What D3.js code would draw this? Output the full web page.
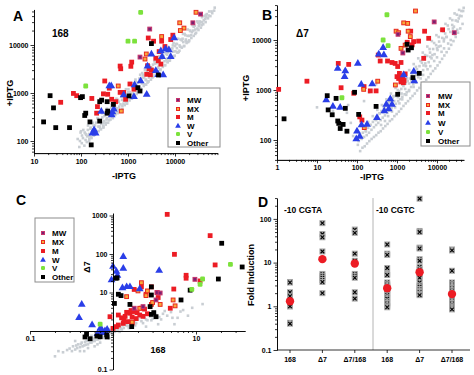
<!DOCTYPE html>
<html>
<head>
<meta charset="utf-8">
<script src="https://cdn.jsdelivr.net/npm/d3@7"></script>
<style>
  body { margin: 0; background: #fff; }
  svg { display: block; }
  text { font-family: "Liberation Sans", Arial, sans-serif; font-weight: bold; }
</style>
</head>
<body>
<svg id="chart" width="474" height="375"></svg>
<script>
// ---- Data ----
const categories = ["MW", "MX", "M", "W", "V", "Other"];

// Panel A: 168, [-IPTG, +IPTG]
const aMW = [[35000,44000],[24000,29000],[2900,21500],[1800,5600]];
const aMX = [[28000,48000],[12600,29000],[15500,22500],[5200,15000],[2300,5100],[2450,6500],[620,1400],[720,420],[13000,20000]];
const aM = [[2700,14000],[3500,12000],[5200,12000],[8100,13000],[6100,9300],[4600,7300],[680,3640],[700,3200],[1200,4400],[1150,3600],
  [2600,3700],[2800,3200],[3150,3000],[2500,2450],[3000,2400],[3900,5300],[4400,4700],[5000,4000],[320,1780],[1100,1540],[1340,1200],
  [69,980],[81,880],[37,640],[170,770],[300,960],[370,940],[450,740],[550,660],[224,520],[215,380],[810,1030],[890,740],[680,1030],
  [400,1260],[9000,16000]];
const aW = [[9600,14000],[5000,7500],[6300,8300],[7400,7900],[3150,6400],[8100,5700],[5300,5700],[2600,3600],[3900,2900],[5600,2370],
  [4400,2400],[1860,1780],[1380,1470],[2500,930],[400,1400],[440,1400],[810,910],[1340,840],[270,410],[465,400],[500,460],[190,170],
  [175,145],[205,145],[450,350]];
const aV = [[1860,48000],[1000,12000],[1380,12000],[126,1400]];
const aOther = [[3150,10700],[4450,2370],[1800,1100],[1620,1290],[1050,870],[275,710],[250,660],[490,580],[360,660],[370,420],[360,380],
  [126,380],[120,340],[107,840],[98,800],[22,880],[26,490],[16,250],[29,190],[57,190],[155,250],[250,260],[165,83]];
const aGray = [[85,110],[95,100],[105,130],[110,115],[120,150],[125,105],[135,125],[140,170],[150,140],[160,190],[165,120],[175,155],
  [185,210],[190,140],[200,175],[210,240],[220,160],[235,200],[245,270],[255,185],[270,230],[285,310],[295,210],[310,260],[330,350],
  [340,240],[360,300],[380,420],[395,270],[420,350],[440,500],[460,320],[490,410],[520,600],[540,380],[580,480],[610,720],[640,450],
  [690,580],[720,850],[760,540],[820,690],[860,1000],[900,640],[970,820],[1020,1200],[1080,760],[1150,980],[1220,1450],[1300,900],
  [1380,1150],[1450,1700],[1550,1050],[1650,1350],[1750,2000],[1850,1250],[1980,1600],[2100,2400],[2250,1500],[2400,1900],[2550,2900],
  [2700,1750],[2900,2300],[3100,3400],[3300,2100],[3500,2800],[3750,4100],[4000,2600],[4300,3300],[4600,4900],[4900,3100],[5300,4000],
  [5700,5900],[6100,3800],[6600,4900],[7100,7000],[7600,4700],[8200,6000],[8800,8500],[9500,5800],[10200,7400],[11000,10500],
  [12000,7200],[13000,9200],[14000,12500],[15500,9500],[17000,12000],[18500,15500],[20000,12500],[22000,16000],[24500,20000],
  [27000,17000],[30000,22000],[33000,27000],[37000,26000],[41000,33000],[46000,38000],[52000,41000],[60000,50000],[68000,52000],
  [100,160],[150,110],[230,290],[300,190],[450,560],[600,400],[780,980],[950,650],[1250,1600],[1600,1100],[2000,2600],[2600,1650],
  [3400,3900],[4200,2800],[5500,6200],[7000,4400],[9000,9800],[11500,7000],[16000,17000],[19000,11500],[25000,24000],[35000,30000],
  [45000,42000],[130,135],[180,175],[260,250],[370,360],[530,510],[750,720],[1100,1050],[1500,1450],[2200,2100],[3200,3000],
  [4700,4500],[6800,6300],[10000,9500],[14500,13500],[21000,19500],[31000,29000],
  [92,75],[98,150],[104,90],[112,170],[118,80],[126,140],[133,95],[141,210],[149,100],[158,180],[167,115],[177,240],[188,130],
  [199,210],[211,145],[224,300],[237,160],[251,260],[266,175],[282,380],[299,200],[317,330],[336,220],[356,470],[377,240],[400,410],
  [424,280],[449,600],[476,300],[505,520],[535,350],[567,760],[601,380],[637,660],[675,440],[716,950],[759,470],[804,820],[852,560],
  [903,1200],[957,600],[1015,1050],[1076,700],[1140,1500],[1209,760],[1281,1300],[1358,880],[1440,1900],[1526,950],[1618,1650],
  [1715,1100],[1818,2400],[1927,1200],[2042,2100],[2165,1400],[2295,3000],[2432,1500],[2578,2600],[2733,1750],[2897,3700],[3071,1900],
  [3255,3300],[3450,2200],[3657,4600],[3877,2400],[4109,4200],[4356,2800],[4617,5800],[4894,3000],[5188,5200],[5499,3500],[5829,7200],
  [6179,3800],[6549,6600],[6942,4400],[7359,9000],[7800,4800],[8268,8300],[8764,5600],[9290,11000],[9848,6000],[10438,10500],
  [11065,7000],[11729,13500],[12432,7600],[13178,13000],[13969,8800],[14807,17000],[15696,9500],[16637,16000],[17636,11000],
  [18694,21000],[19815,12000],[21004,20000],[22265,14000],[23600,26000],[25016,15500],[26517,25000],[28108,18000],[29795,31000],
  [31583,20500],[33478,31000],[35486,23000],[37616,38000],[39873,27000],[42265,40000],[44801,30000],[47489,44000],[50338,36000],
  [53358,50000],[56560,40000],[62000,46000],[70000,60000],
  [300,240],[420,330],[560,470],[800,600],[1100,880],[1500,1150],[2000,1600],[2800,2100],[3700,2900],[5000,4000],[6800,5200],
  [9200,7300],[12500,9800],[17000,13000],[23000,18500],[32000,25000],[44000,35000],[650,520],[900,760],[1250,980],[1750,1350],
  [2400,1850],[3300,2500],[4400,3500],[6000,4600],[8000,6200],[11000,8600],[15000,11500],[20000,15500],[27000,21000],[38000,30000],
  [200,160],[150,125],[250,200],[350,280],[480,390]];

// Panel B: Δ7, [-IPTG, +IPTG]
const bMW = [[8500,23000],[27000,14000],[1060,13000],[1400,5500]];
const bMX = [[2900,38000],[1470,22000],[1850,21500],[950,15000],[1900,15000],[2150,11700],[1600,7900],[1260,6800],[330,1500],
  [147,1030],[152,177],[910,1260],[1100,14000]];
const bM = [[13800,16000],[4900,15000],[6200,10800],[3470,9500],[2600,9300],[4650,4300],[1260,3550],[750,3550],[900,3400],[1040,2950],
  [580,3800],[380,3800],[340,5000],[1000,1850],[1100,1700],[1200,1900],[1300,1650],[1400,1800],[1500,1550],[1250,1450],[1450,1400],
  [1600,2100],[1150,2150],[34,3400],[62,3250],[5.6,1500],[1.1,1030],[40,1110],[83,860],[150,1170],[215,960],[117,290],[133,250],
  [2200,15000],[1800,9000],[2400,8000],[300,960]];
const bW = [[450,7000],[350,5200],[470,5000],[33,2700],[51,2400],[49,1850],[105,3400],[128,1290],[240,1320],[17,630],[25,470],[38,445],
  [100,150],[117,117],[96,105],[178,205],[680,660],[750,515],[540,515],[620,415],[480,380],[2630,2340],[2700,1510],[1470,2000],
  [316,280],[130,200]];
const bV = [[560,32000],[450,10000],[600,7700],[42,700]];
const bOther = [[1780,8200],[1900,6300],[3600,2150],[2500,1770],[1040,820],[300,470],[110,325],[18,770],[30,680],[87,900],[51,430],
  [19,400],[24,320],[33,240],[35,215],[45,205],[38,170],[56,150],[1.5,265],[2300,7000]];
const bGray = [[100,110],[110,95],[120,125],[130,105],[140,140],[150,115],[165,150],[175,125],[190,175],[200,140],[215,200],[230,160],
  [250,230],[265,180],[285,260],[300,200],[320,300],[340,220],[365,340],[390,250],[410,380],[440,280],[470,430],[500,310],[530,480],
  [570,350],[600,540],[640,390],[690,600],[730,430],[780,680],[830,480],[880,760],[940,530],[1000,850],[1070,600],[1130,950],[1200,660],
  [1280,1050],[1360,730],[1450,1200],[1550,820],[1650,1350],[1750,900],[1850,1500],[2000,1000],[2100,1700],[2250,1150],[2400,1950],
  [2550,1300],[2750,2200],[2950,1500],[3150,2600],[3400,1800],[3650,3000],[3900,2100],[4200,3500],[4500,2500],[4900,4100],[5300,3000],
  [5700,4800],[6200,3600],[6700,5600],[7300,4300],[8000,6600],[8700,5200],[9500,7900],[10300,6300],[11300,9300],[12300,7600],
  [13500,11000],[14800,9400],[16000,13500],[17500,11500],[19500,16500],[21500,14500],[24000,20000],[26500,18500],[29500,24500],
  [33000,23500],[37000,30500],[41000,30000],[45000,38000],[300,250],[450,360],[700,510],[1050,720],[1600,1050],[2300,1500],
  [3500,2300],[5100,3400],[7700,5000],[11000,7400],[17000,11500],[25000,17000],[35000,27000],[850,600],[1300,850],[2000,1350],
  [3000,2000],[4600,3100],[6800,4600],[10000,6800],[15000,10500],[10,450],[25,380],[56,350],[70,220],[40,160],[150,600],[200,900],
  [300,1300],[80,120],[60,500],
  [105,80],[112,140],[120,60],[128,115],[137,70],[146,170],[156,75],[167,150],[178,85],[190,230],[203,95],[217,200],[232,105],
  [248,300],[265,115],[283,260],[302,125],[322,400],[344,140],[367,340],[392,150],[419,500],[447,170],[477,450],[510,190],[544,650],
  [581,210],[620,580],[662,240],[707,850],[755,260],[806,750],[860,300],[918,1100],[980,330],[1046,1000],[1117,370],[1192,1450],
  [1273,420],[1359,1300],[1451,480],[1549,1900],[1654,540],[1766,1700],[1885,600],[2012,2500],[2148,680],[2293,2200],[2448,760],
  [2614,3300],[2790,850],[2979,2900],[3180,980],[3395,4300],[3625,1100],[3870,3800],[4131,1250],[4410,5600],[4708,1400],[5027,5000],
  [5366,1600],[5729,7400],[6116,1800],[6530,6600],[6971,2100],[7442,9500],[7945,2400],[8482,8700],[9055,2700],[9667,12500],
  [10320,3100],[11018,11500],[11762,3600],[12557,16000],[13406,4200],[14312,15000],[15279,4900],[16312,21000],[17414,5700],
  [18591,19500],[19847,6700],[21188,27000],[22620,8000],[24148,25000],[25780,9500],[27522,34000],[29381,11500],[31366,32000],
  [33486,14000],[35749,40000],[38164,17000],[40743,38000],[43496,21000],[46435,44000],
  [400,200],[600,300],[900,450],[1350,650],[2000,950],[3000,1400],[4500,2000],[6800,3000],[10000,4500],[15000,6800],[22000,10000],
  [32000,16000],[500,240],[750,370],[1150,540],[1700,800],[2600,1150],[3900,1700],[5800,2600],[8500,3800],[13000,5800],[19000,8500],
  [28000,13000]];

// Panel C: fold induction 168 vs Δ7
const cMW = [[3.4,10],[3.3,6.4],[1.8,3.9],[2.3,4.3],[3.7,9.7],[9.7,22]];
const cMX = [[2.2,18],[2.5,8.3],[2.9,4.9],[3.7,4.9],[5.3,6.4],[1.46,7.8],[2.1,3.9],[2.0,11],[2.6,11],[5.6,4.5],[1.7,1.7],[3.0,5.5]];
const cM = [[4.5,1070],[5.5,98],[14.8,300],[17,52],[7.6,28],[7.6,23.5],[11.2,20],[5.4,12.3],[4.9,3.9],[3.4,10],[3.5,7.4],[2.2,14],
  [2.9,14],[2.5,9],[1.8,12],[1.16,2.6],[1.27,2.2],[1.4,2.4],[1.6,2.9],[1.7,2.3],[1.8,3.2],[1.95,3.0],[2.1,2.6],[2.3,2.4],[1.9,2.1],
  [1.5,1.75],[1.33,1.58],[1.16,1.43],[1.0,1.17],[0.92,2.35],[1.46,3.05],[1.65,3.4],[2.2,3.9],[2.4,3.7],[1.7,1.6],[1.1,1.3],[2.6,2.8],
  [1.35,1.9]];
const cW = [[1.33,85],[1.33,42],[1.0,47],[1.1,35],[1.13,27.5],[1.46,14],[1.6,14],[1.3,13],[2.1,12.3],[3.6,37],[0.42,4.9],[0.39,2.2],
  [0.56,1.43],[0.71,1.22],[0.7,0.96],[0.8,1.0],[0.75,0.9],[0.96,21],[0.85,1.1],[0.65,0.85]];
const cV = [[26,54],[12,22.4],[11.2,16.3],[0.7,1.5],[8.9,12]];
const cOther = [[1.09,23.5],[1.16,9],[1.25,8.3],[1.04,5.2],[20.4,190],[18.6,22.4],[8.5,11.5],[6.6,6.4],[2.9,14],[2.9,8.6],[2.8,4.3],
  [2.9,2.7],[3.3,2.35],[1.6,4.9],[1.68,1.3],[0.84,0.79],[0.7,0.71],[0.48,0.82],[0.46,0.7],[0.53,0.63],[0.64,0.74],[0.85,0.7],[36,46],
  [1.12,24],[3.1,3.0]];
const cGray = [[0.3,0.35],[0.33,0.4],[0.35,0.33],[0.38,0.45],[0.4,0.38],[0.42,0.5],[0.45,0.42],[0.48,0.55],[0.5,0.45],[0.52,0.6],
  [0.55,0.5],[0.58,0.62],[0.6,0.55],[0.62,0.7],[0.65,0.6],[0.68,0.75],[0.7,0.65],[0.72,0.8],[0.75,0.7],[0.78,0.85],[0.8,0.75],
  [0.82,0.92],[0.85,0.8],[0.88,1.0],[0.9,0.85],[0.93,1.05],[0.95,0.9],[1.0,1.1],[1.05,0.95],[1.1,1.2],[1.15,1.05],[1.2,1.3],
  [1.25,1.15],[1.3,1.4],[1.35,1.2],[1.4,1.5],[1.5,1.35],[1.6,1.6],[1.7,1.45],[1.8,1.8],[1.9,1.6],[2.0,2.0],[2.2,1.8],[2.4,2.2],
  [2.6,1.9],[2.8,2.4],[3.0,2.1],[3.3,2.6],[3.6,2.3],[4.0,2.8],[4.5,2.5],[5.0,3.1],[6.0,2.2],[7,3.5],[9,4],[12,5],[5.5,1.5],[3.5,1.5],
  [8,2.5],[2.5,1.3],[0.35,0.55],[0.45,0.3],[0.55,0.75],[0.65,0.45],[0.25,0.28],[0.4,0.3],[0.6,0.4],[0.9,0.65],[1.2,0.95],[1.6,1.2],
  [0.28,0.32],[0.32,0.3],[0.36,0.42],[0.37,0.36],[0.41,0.46],[0.43,0.4],[0.46,0.52],[0.47,0.44],[0.51,0.55],[0.53,0.5],[0.56,0.66],
  [0.57,0.55],[0.61,0.6],[0.63,0.78],[0.66,0.68],[0.69,0.62],[0.71,0.86],[0.74,0.76],[0.77,0.66],[0.79,0.95],[0.83,0.84],[0.86,0.74],
  [0.89,1.1],[0.92,0.95],[0.97,1.02],[1.02,1.25],[1.07,1.1],[1.12,1.0],[1.18,1.4],[1.22,1.2],[1.28,1.1],[1.33,1.6],[1.45,1.4],
  [1.55,1.2],[1.65,1.85],[1.75,1.6],[1.85,1.4],[2.1,2.3],[2.3,1.6],[2.5,2.0],[2.7,2.7],[2.9,1.9],[3.2,2.3],[3.8,2.0],[4.2,3.3],
  [5.2,2.2],[6.5,3.2],[0.2,0.22],[0.22,0.3],[0.5,0.36],[0.7,0.5],[1.0,0.78]];

// Panel D: fold induction per strain and promoter
const dLabels = ["168", "Δ7", "Δ7/168", "168", "Δ7", "Δ7/168"];
const dGroups = ["-10 CGTA", "-10 CGTC"];
const dValues = [
  [3.6, 3.5, 2.1, 1.7, 1.2, 1.0, 1.0, 0.42, 0.4],
  [80, 45, 38, 18, 5.5, 5, 4.5, 4, 3.6, 2],
  [57, 48, 16, 11, 5.5, 5, 4.5, 2.1, 1.5],
  [26, 16, 15, 7.5, 5.5, 5.2, 3.5, 3.2, 3.0, 2.8, 2.6, 2.4, 2.2, 2.0, 1.8, 1.6, 1.5, 1.3, 1.2, 1.1, 1.0, 0.95],
  [290, 53, 50, 22, 21, 12, 11, 8, 7, 6, 5, 4.5, 3.5, 3, 2.8, 2.5, 2.3, 2.2, 2.1, 1.9, 1.8],
  [20, 19, 6.5, 3.5, 3.2, 3.0, 2.8, 2.6, 2.4, 2.2, 2.0, 1.9, 1.8, 1.6, 1.5, 1.4, 1.3, 1.2, 1.1, 1.0, 0.95, 0.9, 0.85]
];
const dMeans = [1.3, 12, 9.5, 2.6, 6, 1.9];

// ---- Styles ----
const markStyle = {
  MW: { fill: "#7b2170", stroke: "#c8346c", shape: "sq" },
  MX: { fill: "#f8a83a", stroke: "#e8281e", shape: "sq" },
  M: { fill: "#ec1c24", stroke: "#ec1c24", shape: "sq" },
  W: { fill: "#2a3ee8", stroke: "#2a3ee8", shape: "tri" },
  V: { fill: "#7ce23c", stroke: "#7ce23c", shape: "round" },
  Other: { fill: "#000000", stroke: "#000000", shape: "sq" }
};
const grayColor = "#c9ced3";

const svg = d3.select("#chart");

function drawMark(g, cat, cx, cy, s) {
  const st = markStyle[cat];
  if (st.shape === "tri") {
    g.append("path")
      .attr("d", d3.symbol(d3.symbolTriangle, s * s * 0.9)())
      .attr("transform", `translate(${cx},${cy})`)
      .attr("fill", st.fill);
  } else {
    const sw = (cat === "MX" || cat === "MW") ? 1 : 0;
    g.append("rect")
      .attr("x", cx - s / 2 + sw / 2).attr("y", cy - s / 2 + sw / 2)
      .attr("width", s - sw).attr("height", s - sw)
      .attr("rx", st.shape === "round" ? 1.2 : 0)
      .attr("fill", st.fill)
      .attr("stroke", st.stroke)
      .attr("stroke-width", sw);
  }
}

// Log axis with labelled decades and unlabelled minor ticks.
function logAxis(g, scale, axisFn, majors) {
  const minors = scale.ticks().filter(t => !majors.includes(t));
  g.append("g").call(axisFn(scale).tickValues(minors).tickSize(2).tickSizeOuter(0).tickFormat(""));
  const maj = g.append("g").call(axisFn(scale).tickValues(majors).tickSize(3.5).tickSizeOuter(0)
    .tickPadding(2).tickFormat(d => String(d)));
  g.selectAll("path, line").attr("stroke", "#000").attr("stroke-width", 0.8);
  g.selectAll("text").attr("font-size", 7).attr("font-family", "Liberation Sans, Arial, sans-serif")
    .attr("font-weight", "bold").attr("fill", "#000");
  return maj;
}

function legend(x0, y0, w, h, mx, tx, rows) {
  const g = svg.append("g");
  g.append("rect").attr("x", x0).attr("y", y0).attr("width", w).attr("height", h)
    .attr("fill", "#fff").attr("stroke", "#8c8c8c").attr("stroke-width", 1);
  categories.forEach((c, i) => {
    drawMark(g, c, mx, rows[i], 4);
    g.append("text").attr("x", tx).attr("y", rows[i]).attr("dy", "0.35em")
      .attr("font-size", 8).text(c);
  });
}

function scatter(x, y, sets, gray) {
  const g = svg.append("g");
  g.selectAll(".gray").data(gray).enter().append("rect")
    .attr("x", d => x(d[0]) - 1.3).attr("y", d => y(d[1]) - 1.3)
    .attr("width", 2.6).attr("height", 2.6).attr("fill", grayColor);
  ["M", "MX", "MW", "W", "Other", "V"].forEach(c => {
    sets[c].forEach(d => drawMark(g, c, x(d[0]), y(d[1]), c === "W" ? 5.4 : 4.8));
  });
}

function label(txt, x, y, size, rotate, anchor) {
  const t = svg.append("text").attr("font-size", size).attr("text-anchor", anchor || "middle").text(txt);
  if (rotate) t.attr("transform", `translate(${x},${y}) rotate(-90)`);
  else t.attr("x", x).attr("y", y);
  return t;
}

// ---- Panel A ----
{
  const x = d3.scaleLog().domain([10, 80000]).range([34, 34 + 47 * Math.log10(8000)]);
  const y = d3.scaleLog().domain([56, 55000]).range([141 + 48 * Math.log10(100 / 56), 45 - 48 * Math.log10(5.5)]);
  logAxis(svg.append("g").attr("transform", `translate(0,${y(56)})`), x, d3.axisBottom, [10, 100, 1000, 10000]);
  logAxis(svg.append("g").attr("transform", `translate(${x(10)},0)`), y, d3.axisLeft, [100, 1000, 10000]);
  scatter(x, y, { MW: aMW, MX: aMX, M: aM, W: aW, V: aV, Other: aOther }, aGray);
  legend(168, 88, 52, 59, 178, 187, [100, 109, 117, 126, 134, 143]);
  label("A", 18, 21, 14, false);
  label("168", 52, 37, 10, false, "start");
  label("+IPTG", 13, 93, 9, true);
  label("-IPTG", 124, 179, 9, false);
}

// ---- Panel B ----
{
  const x = d3.scaleLog().domain([1, 47000]).range([277, 277 + 40 * Math.log10(47000)]);
  const y = d3.scaleLog().domain([40, 50000]).range([140 + 50 * Math.log10(100 / 40), 40 - 50 * Math.log10(5)]);
  logAxis(svg.append("g").attr("transform", `translate(0,${y(40)})`), x, d3.axisBottom, [1, 10, 100, 1000, 10000]);
  logAxis(svg.append("g").attr("transform", `translate(${x(1)},0)`), y, d3.axisLeft, [100, 1000, 10000]);
  scatter(x, y, { MW: bMW, MX: bMX, M: bM, W: bW, V: bV, Other: bOther }, bGray);
  legend(421, 82, 49, 64, 428, 438, [96, 105, 113, 123, 132, 141]);
  label("B", 267, 20, 14, false);
  label("Δ7", 296, 37, 10, false, "start");
  label("+IPTG", 249, 88, 9, true);
  label("-IPTG", 372, 180, 9, false);
}

// ---- Panel C ----
{
  const x = d3.scaleLog().domain([0.1, 39]).range([30, 30 + 83 * Math.log10(390)]);
  const y = d3.scaleLog().domain([0.1, 1150]).range([331 + 38.5, 331 - 38.5 * Math.log10(1150)]);
  scatter(x, y, { MW: cMW, MX: cMX, M: cM, W: cW, V: cV, Other: cOther }, cGray);
  logAxis(svg.append("g").attr("transform", `translate(0,${y(1)})`), x, d3.axisBottom, [0.1, 1, 10])
    .selectAll(".tick").filter(d => d === 1).select("text").remove();
  logAxis(svg.append("g").attr("transform", `translate(${x(1)},0)`), y, d3.axisLeft, [0.1, 1, 10, 100, 1000])
    .selectAll(".tick").filter(d => d === 1).select("text").remove();
  legend(35, 218, 39, 64, 43, 52, [233, 242, 251, 260, 268, 277]);
  label("C", 21, 205, 14, false);
  label("Δ7", 90, 267, 9, true);
  label("168", 158, 353, 9, false);
}

// ---- Panel D ----
{
  const x = d3.scalePoint().domain(d3.range(6)).range([290, 452]);
  const y = d3.scaleLog().domain([0.1, 300]).range([350, 350 - 43.7 * Math.log10(3000)]);
  svg.append("line").attr("x1", 373).attr("x2", 373).attr("y1", y(300)).attr("y2", y(0.1))
    .attr("stroke", "#b4b4b4").attr("stroke-width", 1);
  const yAx = svg.append("g").attr("transform", "translate(277,0)");
  logAxis(yAx, y, d3.axisLeft, [0.1, 1, 10, 100]);
  const xAx = svg.append("g").attr("transform", `translate(0,${y(0.1)})`);
  xAx.append("line").attr("x1", 277).attr("x2", 470).attr("stroke", "#000").attr("stroke-width", 0.8);
  xAx.selectAll(".tk").data(d3.range(6)).enter().append("line")
    .attr("x1", d => x(d)).attr("x2", d => x(d)).attr("y1", 0).attr("y2", 3)
    .attr("stroke", "#000").attr("stroke-width", 0.8);
  xAx.selectAll(".lb").data(dLabels).enter().append("text")
    .attr("x", (d, i) => x(i)).attr("y", 12).attr("text-anchor", "middle")
    .attr("font-size", 7).text(d => d);

  const g = svg.append("g");
  dValues.forEach((vals, i) => {
    vals.forEach(v => {
      const cx = x(i), cy = y(v);
      g.append("rect").attr("x", cx - 3).attr("y", cy - 3).attr("width", 6).attr("height", 6).attr("fill", "#a8a8a8");
      g.append("path").attr("d", `M${cx - 1.8},${cy - 1.8}L${cx + 1.8},${cy + 1.8}M${cx + 1.8},${cy - 1.8}L${cx - 1.8},${cy + 1.8}`)
        .attr("stroke", "#000").attr("stroke-width", 1.1);
    });
  });
  g.selectAll(".mean").data(dMeans).enter().append("circle")
    .attr("cx", (d, i) => x(i)).attr("cy", d => y(d)).attr("r", 4.2).attr("fill", "#ec1c24");

  label("D", 263, 207, 14, false);
  label(dGroups[0], 284, 213, 8.5, false, "start");
  label(dGroups[1], 376, 213, 8.5, false, "start");
  label("Fold Induction", 254, 275, 9, true);
}
</script>
</body>
</html>
